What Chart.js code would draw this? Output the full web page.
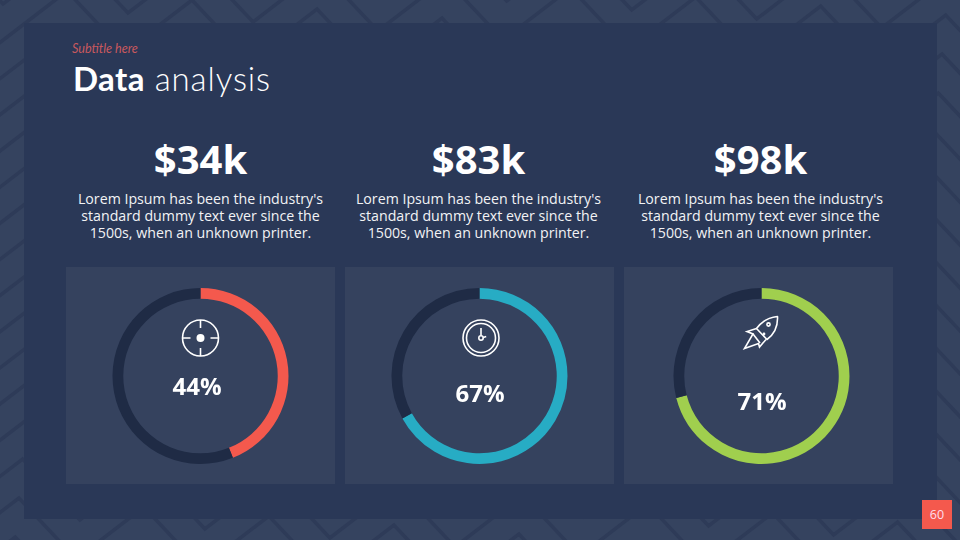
<!DOCTYPE html>
<html>
<head>
<meta charset="utf-8">
<title>Data analysis</title>
<script src="https://cdn.jsdelivr.net/npm/chart.js@4"></script>
<style>
  html, body { margin: 0; padding: 0; background: #35435f; }
  #slide { position: relative; width: 960px; height: 540px; overflow: hidden; font-family: "Open Sans", sans-serif; color: #fff; }
  #pattern { position: absolute; left: 0; top: 0; }
  #panel { position: absolute; left: 24px; top: 23px; width: 913px; height: 496px; background: #2a3857; }
  .subtitle { position: absolute; left: 72px; top: 41px; font: italic 12.6px Lato, sans-serif; color: #c9585e; }
  .title { position: absolute; left: 73px; top: 59px; font: 300 33px/38px Lato, sans-serif; letter-spacing: 0.9px; }
  .title b { font-weight: 700; letter-spacing: 0.4px; }
  .amount { position: absolute; width: 269px; top: 134px; text-align: center; font-weight: 700; font-size: 40px; line-height: 50px; }
  .blurb { position: absolute; width: 269px; top: 190px; text-align: center; font-size: 14.2px; line-height: 17px; color: #f2f3f5; }
  .card { position: absolute; top: 267px; width: 269px; height: 217px; background: #35425e; }
  canvas.ring { position: absolute; top: 286px; }
  .pct { position: absolute; width: 100px; text-align: center; font-weight: 700; font-size: 24px; line-height: 30px; }
  .icon { position: absolute; left: 0; top: 0; }
  #badge { position: absolute; left: 922px; top: 500px; width: 30px; height: 29px; background: #f4594d; text-align: center; font-size: 12.5px; line-height: 29px; color: #fde; }
</style>
</head>
<body>
<div id="slide">
  <svg id="pattern" width="960" height="540"></svg>
  <div id="panel"></div>
  <div class="subtitle">Subtitle here</div>
  <div class="title"><b>Data</b> analysis</div>
  <div id="columns"></div>
  <svg class="icon" width="960" height="540" fill="none" stroke="#fff" stroke-width="1.6">
    <!-- target -->
    <circle cx="200.5" cy="338" r="18"/>
    <circle cx="200.5" cy="338" r="4" fill="#fff" stroke="none"/>
    <path d="M200.5 320v8M200.5 348v8M182.5 338h8M210.5 338h8"/>
    <!-- clock -->
    <circle cx="481" cy="338" r="18"/>
    <circle cx="481" cy="338" r="14.5"/>
    <circle cx="481" cy="338" r="2.2"/>
    <path d="M481 335.5V328M483.2 337.5l3-1"/>
    <!-- rocket -->
    <path d="M777.5 316.5c-9 1-16 5-21 12l10.5 11c7-5 11-13 10.500-23z" stroke-linejoin="round"/>
    <path d="M756.500 328.500l-9.500 3 6 2.500-8.500 14.500 14-5 1 3.500 6.500-7.500"/>
    <path d="M753 334l7 9"/>
    <circle cx="768.500" cy="324.500" r="1.600"/>
    <circle cx="764" cy="334" r="0.600"/>
  </svg>
  <div id="badge">60</div>
</div>

<script>
  // Chart values
  const amounts = ['$34k', '$83k', '$98k'];
  const percents = [44, 67, 71];
  const remainders = [56, 33, 29];
  const ringColors = ['#f4594d', '#27acc4', '#a0cf4e'];
  const blurbLines = [
    "Lorem Ipsum has been the industry's",
    'standard dummy text ever since the',
    '1500s, when an unknown printer.'
  ];

  // Layout of the three columns
  const cardLefts = [66, 345, 624];
  const ringLefts = [110, 389, 671];
  const pctCenters = [[197, 386], [480, 393], [762, 401]];
  const textCenters = [200.5, 478.5, 760.5];

  // Chevron background
  function drawPattern() {
    const svg = document.getElementById('pattern');
    let rows = '';
    for (let k = -3; k < 18; k++) {
      const pts = [];
      for (let m = -4; m < 10; m++) {
        const vx = 253 + m * 125 - k * 3.7;
        const vy = 22 + m * 9 + k * 39;
        pts.push(vx + ',' + vy, (vx + 67.7) + ',' + (vy - 52));
      }
      rows += '<polyline points="' + pts.join(' ') + '" fill="none" stroke="#2e3b58" stroke-width="3.5"/>';
    }
    svg.innerHTML = rows;
  }

  function addColumn(i) {
    const root = document.getElementById('columns');
    const card = document.createElement('div');
    card.className = 'card';
    card.style.left = cardLefts[i] + 'px';
    root.appendChild(card);

    const amount = document.createElement('div');
    amount.className = 'amount';
    amount.style.left = (textCenters[i] - 134.5) + 'px';
    amount.textContent = amounts[i];
    root.appendChild(amount);

    const blurb = document.createElement('div');
    blurb.className = 'blurb';
    blurb.style.left = (textCenters[i] - 134.5) + 'px';
    blurb.innerHTML = blurbLines.join('<br>');
    root.appendChild(blurb);

    const canvas = document.createElement('canvas');
    canvas.className = 'ring';
    canvas.width = 181;
    canvas.height = 180;
    canvas.style.left = ringLefts[i] + 'px';
    root.appendChild(canvas);

    const pct = document.createElement('div');
    pct.className = 'pct';
    pct.style.left = (pctCenters[i][0] - 50) + 'px';
    pct.style.top = (pctCenters[i][1] - 15) + 'px';
    pct.textContent = percents[i] + '%';
    root.appendChild(pct);

    new Chart(canvas, {
      type: 'doughnut',
      data: {
        labels: ['Value', 'Rest'],
        datasets: [{
          data: [percents[i], remainders[i]],
          backgroundColor: [ringColors[i], '#1f2b45'],
          borderWidth: 0
        }]
      },
      options: {
        responsive: false,
        animation: false,
        radius: 88,
        cutout: 79,
        plugins: {
          legend: { display: false },
          tooltip: { enabled: false }
        }
      }
    });
  }

  drawPattern();
  percents.forEach((p, i) => addColumn(i));
</script>
</body>
</html>
